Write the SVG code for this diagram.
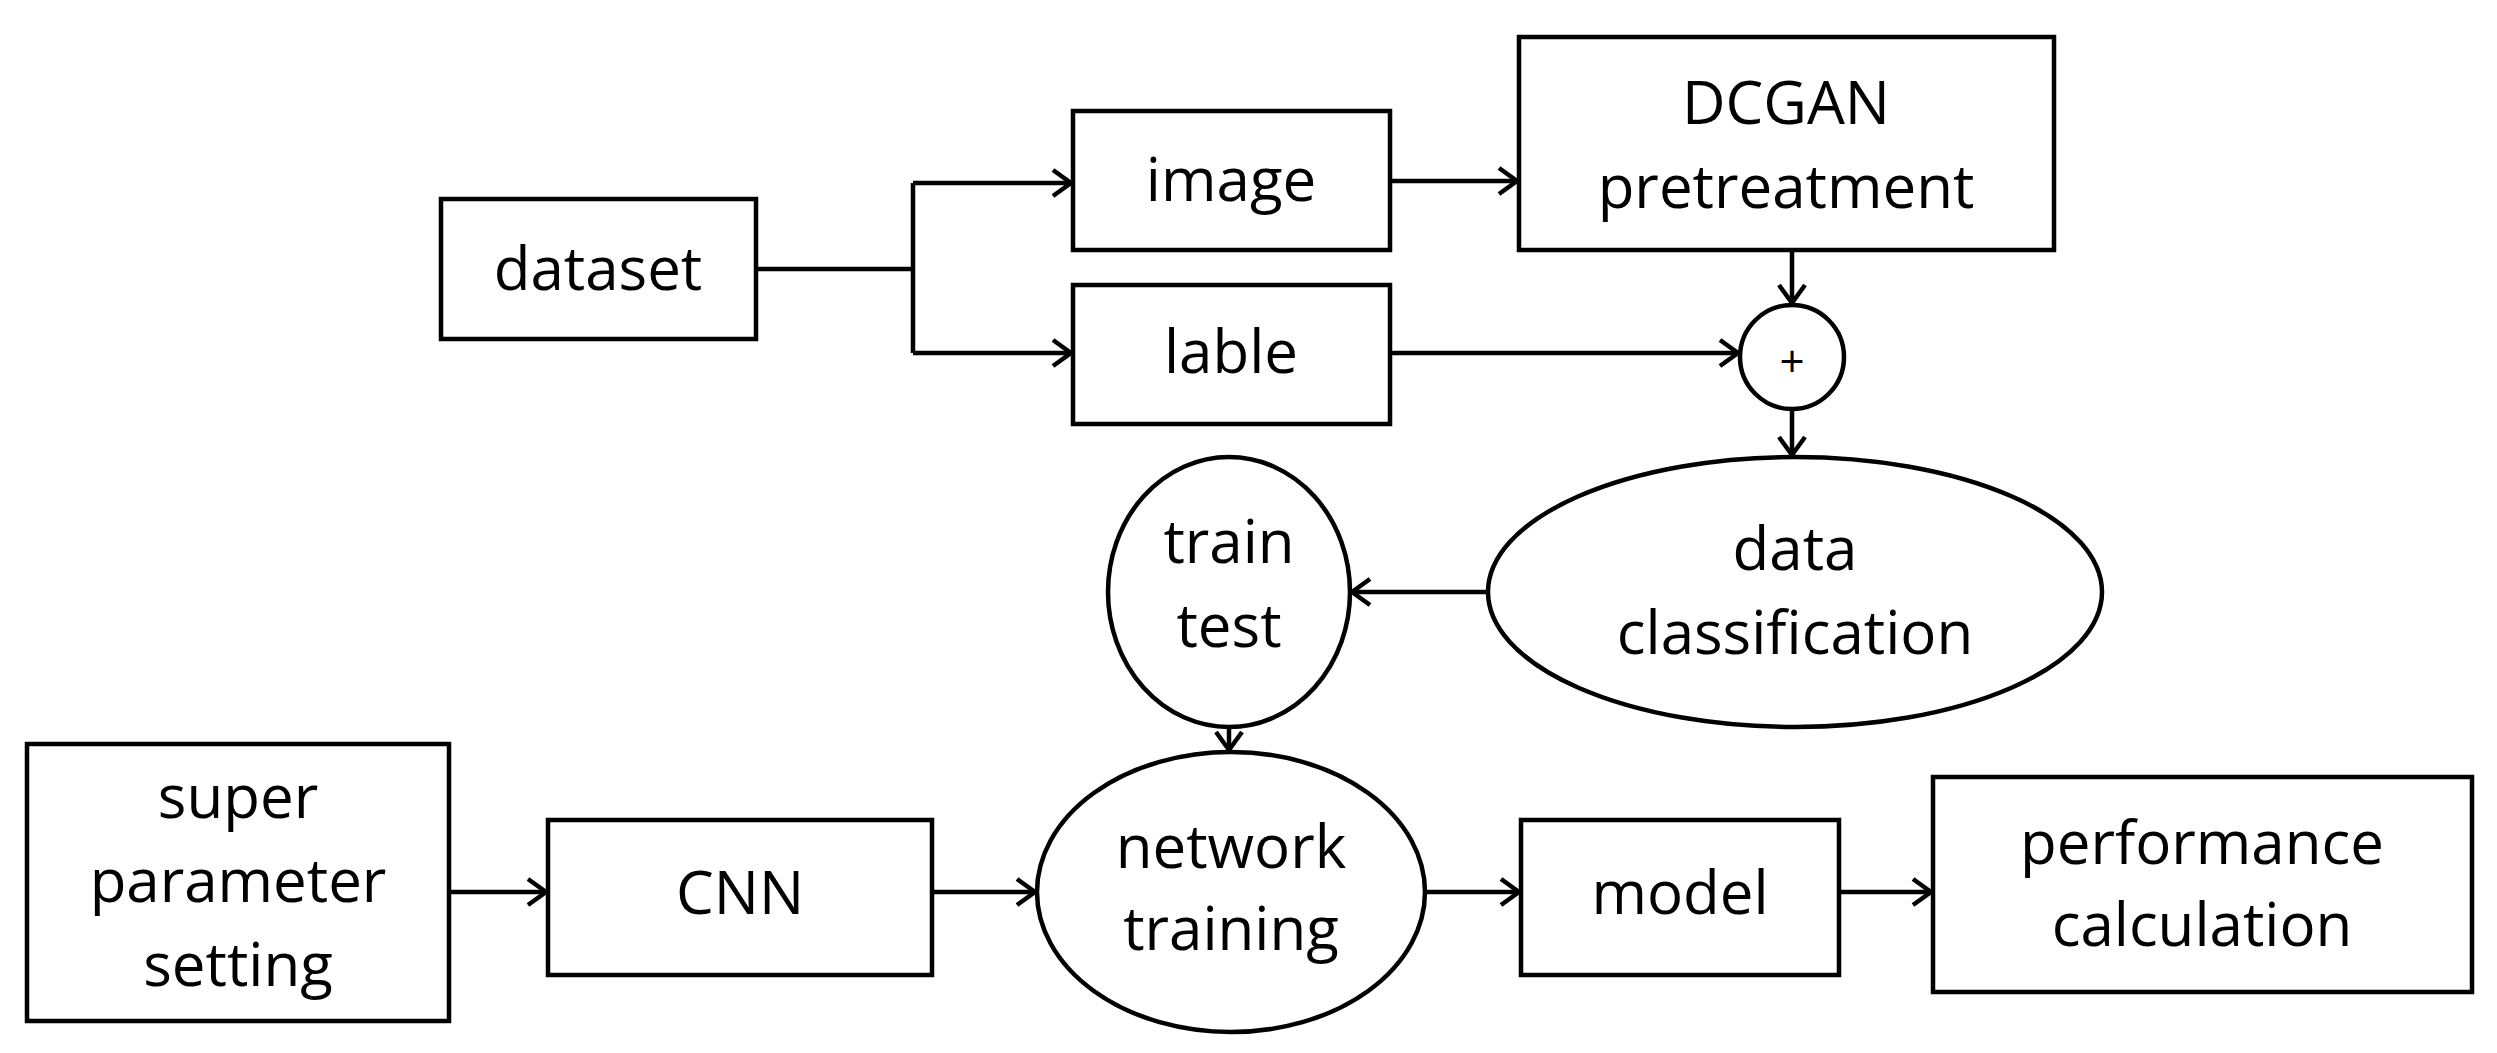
<svg xmlns="http://www.w3.org/2000/svg" width="2497" height="1053" viewBox="0 0 2497 1053">
<style>
.s{fill:#fff;stroke:#000;stroke-width:4.5}
.t{font-family:"Open Sans","Noto Sans","Liberation Sans",sans-serif;font-size:60px;text-anchor:middle;fill:#000}
.c{fill:none;stroke:#000;stroke-width:4.5}
</style>
<defs><marker id="a" markerWidth="12" markerHeight="12" refX="10" refY="6" orient="auto" markerUnits="userSpaceOnUse" viewBox="0 0 12 12"><path d="M1,0 L10,6 L1,12" fill="none" stroke="#000" stroke-width="2"/></marker>
<marker id="b" markerWidth="30" markerHeight="30" refX="26" refY="15" orient="auto" markerUnits="userSpaceOnUse" viewBox="0 0 30 30"><path d="M8,2 L26,15 L8,28" fill="none" stroke="#000" stroke-width="4.5"/></marker></defs>
<rect width="2497" height="1053" fill="#fff"/>
<g id="connectors" class="c">
<path d="M756,269 H913 M913,183 V353"/>
<path d="M913,183 H1071" marker-end="url(#b)"/>
<path d="M913,353 H1071" marker-end="url(#b)"/>
<path d="M1390,181 H1517" marker-end="url(#b)"/>
<path d="M1792,250 V303" marker-end="url(#b)"/>
<path d="M1390,353 H1738" marker-end="url(#b)"/>
<path d="M1792,409 V455" marker-end="url(#b)"/>
<path d="M1488,592 H1352" marker-end="url(#b)"/>
<path d="M1229,727 V750" marker-end="url(#b)"/>
<path d="M449,892 H546" marker-end="url(#b)"/>
<path d="M932,892 H1035" marker-end="url(#b)"/>
<path d="M1425,892 H1519" marker-end="url(#b)"/>
<path d="M1839,892 H1931" marker-end="url(#b)"/>
</g>
<g id="dataset"><rect class="s" x="441" y="199" width="315" height="140"/><text class="t" x="598" y="290">dataset</text></g>
<g id="image"><rect class="s" x="1073" y="111" width="317" height="139"/><text class="t" x="1231" y="201">image</text></g>
<g id="lable"><rect class="s" x="1073" y="285" width="317" height="139"/><text class="t" x="1231" y="373">lable</text></g>
<g id="dcgan"><rect class="s" x="1519" y="37" width="535" height="213"/><text class="t" x="1786" y="124">DCGAN</text><text class="t" x="1786" y="208">pretreatment</text></g>
<g id="plus"><circle class="s" cx="1792" cy="357" r="52"/><text class="t" x="1792" y="377" style="font-size:44px">+</text></g>
<g id="data-classification"><ellipse class="s" cx="1795" cy="592" rx="307" ry="135"/><text class="t" x="1795" y="570">data</text><text class="t" x="1795" y="654">classification</text></g>
<g id="train-test"><ellipse class="s" cx="1229" cy="592" rx="121" ry="135"/><text class="t" x="1229" y="563">train</text><text class="t" x="1229" y="647">test</text></g>
<g id="super"><rect class="s" x="27" y="744" width="422" height="277"/><text class="t" x="238" y="818">super</text><text class="t" x="238" y="902">parameter</text><text class="t" x="238" y="986">setting</text></g>
<g id="cnn"><rect class="s" x="548" y="820" width="384" height="155"/><text class="t" x="740" y="914">CNN</text></g>
<g id="network-training"><ellipse class="s" cx="1231" cy="892" rx="194" ry="140"/><text class="t" x="1231" y="868">network</text><text class="t" x="1231" y="950">training</text></g>
<g id="model"><rect class="s" x="1521" y="820" width="318" height="155"/><text class="t" x="1680" y="914">model</text></g>
<g id="performance"><rect class="s" x="1933" y="777" width="539" height="215"/><text class="t" x="2202" y="864">performance</text><text class="t" x="2202" y="946">calculation</text></g>
</svg>
